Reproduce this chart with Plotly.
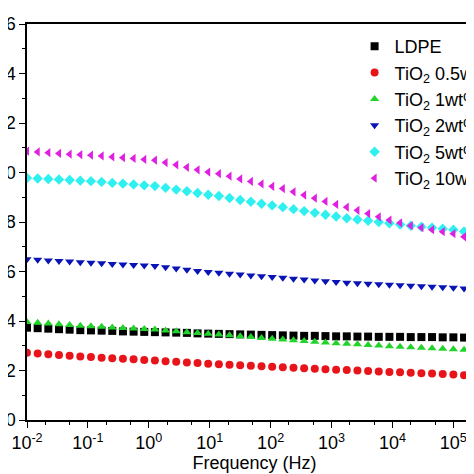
import plotly.graph_objects as go

# measurement grid, log10 of frequency (Hz)
log_freq = [-2 + i * 0.175 for i in range(43)]
freq = [10 ** e for e in log_freq]

ldpe = [3.73, 3.71, 3.69, 3.67, 3.65, 3.63, 3.62, 3.61, 3.60, 3.58,
        3.57, 3.56, 3.55, 3.54, 3.53, 3.52, 3.50, 3.49, 3.48, 3.47,
        3.46, 3.45, 3.44, 3.43, 3.42, 3.41, 3.40, 3.40, 3.39, 3.38,
        3.38, 3.37, 3.37, 3.36, 3.36, 3.36, 3.35, 3.35, 3.35, 3.34,
        3.34, 3.33, 3.32]
tio2_05 = [2.72, 2.69, 2.66, 2.63, 2.60, 2.57, 2.55, 2.52, 2.50, 2.47,
           2.45, 2.42, 2.40, 2.37, 2.35, 2.32, 2.30, 2.27, 2.25, 2.23,
           2.21, 2.19, 2.17, 2.15, 2.13, 2.11, 2.09, 2.07, 2.05, 2.03,
           2.02, 2.00, 1.98, 1.96, 1.94, 1.93, 1.91, 1.89, 1.88, 1.86,
           1.84, 1.81, 1.78]
tio2_1 = [3.96, 3.93, 3.90, 3.87, 3.84, 3.81, 3.79, 3.77, 3.74, 3.72,
          3.70, 3.68, 3.66, 3.62, 3.59, 3.55, 3.52, 3.48, 3.45, 3.42,
          3.38, 3.35, 3.31, 3.28, 3.25, 3.22, 3.19, 3.16, 3.13, 3.10,
          3.08, 3.06, 3.03, 3.01, 2.98, 2.96, 2.94, 2.92, 2.90, 2.88,
          2.86, 2.84, 2.81]
tio2_2 = [6.49, 6.47, 6.44, 6.42, 6.40, 6.37, 6.35, 6.33, 6.30, 6.28,
          6.26, 6.24, 6.22, 6.17, 6.12, 6.07, 6.02, 5.98, 5.95, 5.91,
          5.88, 5.84, 5.81, 5.78, 5.75, 5.71, 5.68, 5.64, 5.61, 5.58,
          5.55, 5.53, 5.51, 5.48, 5.46, 5.44, 5.42, 5.40, 5.38, 5.36,
          5.34, 5.31, 5.28]
tio2_5 = [9.78, 9.76, 9.74, 9.72, 9.70, 9.67, 9.65, 9.62, 9.58, 9.55,
          9.52, 9.48, 9.45, 9.38, 9.31, 9.24, 9.17, 9.10, 9.05, 8.97,
          8.89, 8.82, 8.74, 8.67, 8.60, 8.52, 8.44, 8.37, 8.29, 8.22,
          8.15, 8.10, 8.05, 8.00, 7.95, 7.90, 7.85, 7.81, 7.77, 7.73,
          7.69, 7.62, 7.56]
tio2_10 = [10.86, 10.83, 10.80, 10.77, 10.74, 10.72, 10.70, 10.67, 10.63, 10.60,
           10.57, 10.53, 10.50, 10.40, 10.31, 10.21, 10.11, 10.02, 9.95, 9.85,
           9.74, 9.64, 9.54, 9.44, 9.35, 9.22, 9.09, 8.96, 8.83, 8.71,
           8.60, 8.47, 8.34, 8.21, 8.08, 7.96, 7.85, 7.77, 7.69, 7.61,
           7.53, 7.40, 7.30]

names = ["LDPE", "TiO<sub>2</sub> 0.5wt%", "TiO<sub>2</sub> 1wt%",
         "TiO<sub>2</sub> 2wt%", "TiO<sub>2</sub> 5wt%", "TiO<sub>2</sub> 10wt%"]
series = [ldpe, tio2_05, tio2_1, tio2_2, tio2_5, tio2_10]
colors = ["#000000", "#e8141a", "#22d42a", "#0a14b4", "#2ef0f0", "#e020e0"]
symbols = ["square", "circle", "triangle-up", "triangle-down", "diamond", "triangle-left"]

x_tick_vals = [1e-2, 1e-1, 1, 10, 1e2, 1e3, 1e4, 1e5]
x_tick_text = ["10<sup>-2</sup>", "10<sup>-1</sup>", "10<sup>0</sup>", "10<sup>1</sup>",
               "10<sup>2</sup>", "10<sup>3</sup>", "10<sup>4</sup>", "10<sup>5</sup>"]

fig = go.Figure()
for name, ys, c, s in zip(names, series, colors, symbols):
    fig.add_trace(go.Scatter(x=freq, y=ys, mode="markers", name=name,
                             marker=dict(color=c, symbol=s, size=8)))

axis_style = dict(showline=True, linecolor="black", linewidth=1.5, mirror=True,
                  ticks="outside", ticklen=6, tickcolor="black", showgrid=False,
                  zeroline=False, automargin=False,
                  tickfont=dict(family="Arial", size=18, color="black"))

fig.update_xaxes(type="log", range=[-2, 5.47], tickvals=x_tick_vals, ticktext=x_tick_text,
                 minor=dict(ticks="outside", ticklen=3, tickcolor="black"),
                 title=dict(text="Frequency (Hz)", font=dict(family="Arial", size=18, color="black"),
                            standoff=4),
                 **axis_style)
fig.update_yaxes(range=[0, 16], dtick=2,
                 minor=dict(ticks="outside", ticklen=3, tickcolor="black", dtick=1),
                 **axis_style)

fig.update_layout(width=474, height=474,
                  margin=dict(l=19, r=0, t=16, b=62, autoexpand=False),
                  plot_bgcolor="white", paper_bgcolor="white",
                  legend=dict(x=0.72, y=0.99, xanchor="left", yanchor="top",
                              bgcolor="rgba(0,0,0,0)",
                              font=dict(family="Arial", size=18, color="black")))

fig.write_html("out.html")
